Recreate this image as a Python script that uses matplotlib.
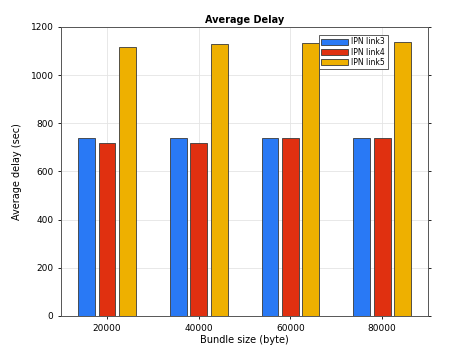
import numpy as np
from matplotlib import pyplot as plt

# data
bundle_sizes = ["20000", "40000", "60000", "80000"]
series_names = ["IPN link3", "IPN link4", "IPN link5"]
link3 = [738, 738, 741, 741]
link4 = [718, 718, 741, 741]
link5 = [1116, 1128, 1133, 1136]

colors = ["#2979f5", "#e03010", "#eeb000"]


def build_figure(save_to):
    fig = plt.figure(figsize=(4.74, 3.55), dpi=100)
    ax = fig.add_axes([0.129, 0.110, 0.774, 0.814])

    x = np.arange(1, len(bundle_sizes) + 1)
    width = 0.185
    step = 0.223
    for i, (vals, name) in enumerate(zip([link3, link4, link5], series_names)):
        ax.bar(x + (i - 1) * step, vals, width, color=colors[i],
               edgecolor="#3a3a3a", linewidth=0.6, label=name, zorder=3)

    ax.set_xlim(0.5, 4.5)
    ax.set_ylim(0, 1200)
    ax.set_xticks(x)
    ax.set_xticklabels(bundle_sizes)
    ax.set_yticks(np.arange(0, 1201, 200))
    ax.tick_params(labelsize=6.5, direction="out", length=2.5, width=0.6,
                   right=True, top=False, pad=3)
    ax.grid(True, color="#e4e4e4", linewidth=0.6, zorder=0)

    for s in ax.spines.values():
        s.set_color("#555555")
        s.set_linewidth(0.7)

    ax.set_title("Average Delay", fontsize=7, fontweight="bold", pad=3)
    ax.set_xlabel("Bundle size (byte)", fontsize=7, labelpad=2)
    ax.set_ylabel("Average delay (sec)", fontsize=7, labelpad=6)

    leg = ax.legend(loc="upper right", bbox_to_anchor=(0.90, 0.985),
                    fontsize=5.5, handlelength=3.6, handleheight=0.9,
                    borderpad=0.3, labelspacing=0.15, handletextpad=0.4,
                    fancybox=False, framealpha=1)
    leg.get_frame().set_edgecolor("#444444")
    leg.get_frame().set_linewidth(0.6)

    fig.savefig(save_to, dpi=100)


build_figure("out.png")
